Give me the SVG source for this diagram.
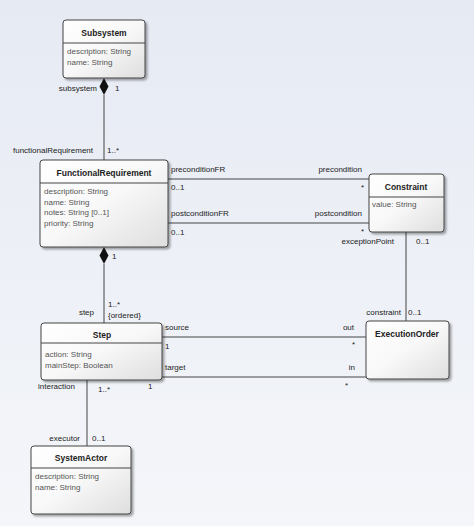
<svg xmlns="http://www.w3.org/2000/svg" width="474" height="526" viewBox="0 0 474 526">
<defs>
<linearGradient id="bg" x1="0" y1="0" x2="0" y2="1">
<stop offset="0" stop-color="#e6eaf3"/>
<stop offset="1" stop-color="#f4f6fa"/>
</linearGradient>
<linearGradient id="box" x1="0" y1="0" x2="1" y2="1">
<stop offset="0" stop-color="#ffffff"/>
<stop offset="0.5" stop-color="#f8f8f8"/>
<stop offset="1" stop-color="#dedede"/>
</linearGradient>
<filter id="sh" x="-10%" y="-10%" width="130%" height="130%">
<feGaussianBlur in="SourceAlpha" stdDeviation="1.2"/>
<feOffset dx="1.5" dy="1.5" result="b"/>
<feComponentTransfer><feFuncA type="linear" slope="0.35"/></feComponentTransfer>
<feMerge><feMergeNode/><feMergeNode in="SourceGraphic"/></feMerge>
</filter>
</defs>
<style>
text{font-family:"Liberation Sans",Arial,sans-serif;font-size:8px;fill:#222}
.t{font-weight:bold;text-anchor:middle;font-size:8.5px}
.a{fill:#555}
.r{text-anchor:end}
.b{fill:url(#box);stroke:#444;stroke-width:1;filter:url(#sh)}
.d{stroke:#444;stroke-width:1}
.c{stroke:#444;stroke-width:1;fill:none}
</style>
<rect width="474" height="526" fill="url(#bg)"/>
<g id="connectors">
<line class="c" x1="104" y1="95" x2="104" y2="160"/>
<path d="M104,78 L108.5,86.5 L104,95 L99.5,86.5 Z" fill="#111"/>
<line class="c" x1="168" y1="179" x2="369" y2="179"/>
<line class="c" x1="168" y1="223" x2="369" y2="223"/>
<line class="c" x1="104" y1="264" x2="104" y2="323"/>
<path d="M104,247 L108.5,255.5 L104,264 L99.5,255.5 Z" fill="#111"/>
<line class="c" x1="406" y1="232" x2="406" y2="321"/>
<line class="c" x1="162" y1="337" x2="366" y2="337"/>
<line class="c" x1="162" y1="377" x2="366" y2="377"/>
<line class="c" x1="87" y1="380" x2="87" y2="446"/>
<text x="97" y="91" class="r">subsystem</text>
<text x="115" y="91">1</text>
<text x="93" y="153" class="r">functionalRequirement</text>
<text x="107" y="153">1..*</text>
<text x="171" y="172">preconditionFR</text>
<text x="171" y="190">0..1</text>
<text x="171" y="216">postconditionFR</text>
<text x="171" y="235">0..1</text>
<text x="362" y="172" class="r">precondition</text>
<text x="364" y="190" class="r">*</text>
<text x="362" y="216" class="r">postcondition</text>
<text x="364" y="234" class="r">*</text>
<text x="394" y="244" class="r">exceptionPoint</text>
<text x="416" y="244">0..1</text>
<text x="112" y="259">1</text>
<text x="94" y="315" class="r">step</text>
<text x="108" y="307">1..*</text>
<text x="108" y="318">{ordered}</text>
<text x="401" y="315" class="r">constraint</text>
<text x="408" y="315">0..1</text>
<text x="165" y="330">source</text>
<text x="165" y="349">1</text>
<text x="354" y="330" class="r">out</text>
<text x="355" y="347" class="r">*</text>
<text x="165" y="370">target</text>
<text x="355" y="370" class="r">in</text>
<text x="348" y="388" class="r">*</text>
<text x="38" y="389">interaction</text>
<text x="98" y="392">1..*</text>
<text x="148" y="389">1</text>
<text x="80" y="441" class="r">executor</text>
<text x="92" y="441">0..1</text>
</g>
<g id="Subsystem">
<rect class="b" x="63" y="20" width="82" height="58" rx="3"/>
<line class="d" x1="63" y1="43" x2="145" y2="43"/>
<text x="104" y="36" class="t">Subsystem</text>
<text x="67" y="54" class="a">description: String</text>
<text x="67" y="65" class="a">name: String</text>
</g>
<g id="FunctionalRequirement">
<rect class="b" x="40" y="160" width="128" height="87" rx="3"/>
<line class="d" x1="40" y1="183" x2="168" y2="183"/>
<text x="104" y="176" class="t">FunctionalRequirement</text>
<text x="44" y="194" class="a">description: String</text>
<text x="44" y="205" class="a">name: String</text>
<text x="44" y="215" class="a">notes: String [0..1]</text>
<text x="44" y="226" class="a">priority: String</text>
</g>
<g id="Constraint">
<rect class="b" x="369" y="174" width="75" height="58" rx="3"/>
<line class="d" x1="369" y1="197" x2="444" y2="197"/>
<text x="406" y="190" class="t">Constraint</text>
<text x="372" y="207" class="a">value: String</text>
</g>
<g id="Step">
<rect class="b" x="41" y="323" width="121" height="57" rx="3"/>
<line class="d" x1="41" y1="343" x2="162" y2="343"/>
<text x="102" y="338" class="t">Step</text>
<text x="45" y="357" class="a">action: String</text>
<text x="45" y="368" class="a">mainStep: Boolean</text>
</g>
<g id="ExecutionOrder">
<rect class="b" x="366" y="321" width="83" height="58" rx="3"/>
<text x="407" y="337" class="t">ExecutionOrder</text>
</g>
<g id="SystemActor">
<rect class="b" x="31" y="446" width="100" height="68" rx="3"/>
<line class="d" x1="31" y1="468" x2="131" y2="468"/>
<text x="81" y="461" class="t">SystemActor</text>
<text x="35" y="479" class="a">description: String</text>
<text x="35" y="490" class="a">name: String</text>
</g>
</svg>
